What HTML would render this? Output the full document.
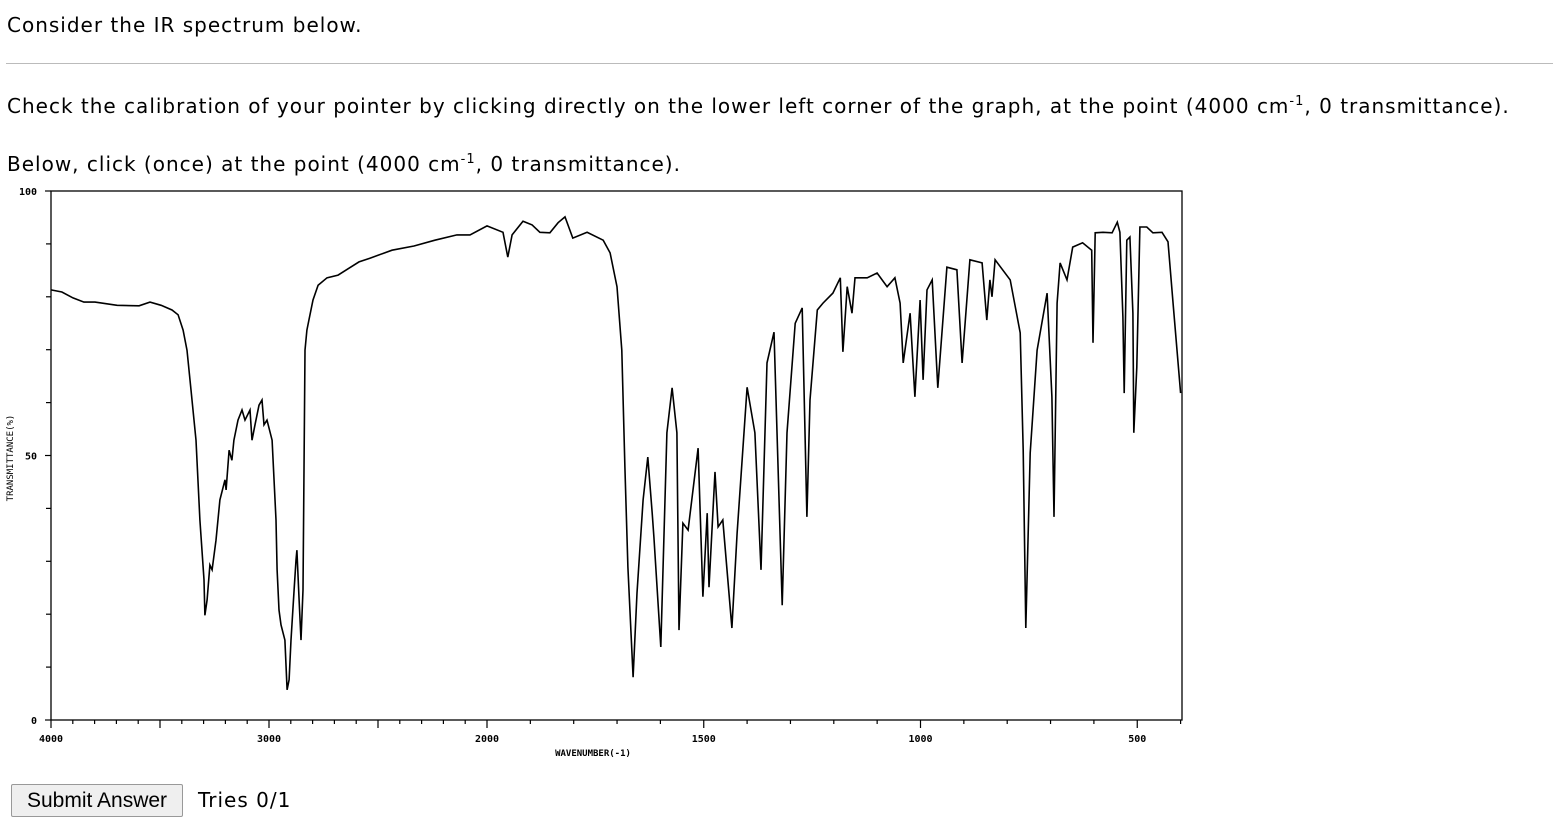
<!DOCTYPE html>
<html><head><meta charset="utf-8">
<style>
body{margin:0;width:1553px;height:837px;background:#fff;font-family:"DejaVu Sans",Verdana,sans-serif;color:#000;position:relative;overflow:hidden}
.t{position:absolute;left:7px;font-size:20px;letter-spacing:1px;white-space:nowrap}
sup{font-size:13px;vertical-align:8px;line-height:0}
#rule{position:absolute;left:6px;top:63px;width:1547px;height:1px;background:#bbb}
#btn{position:absolute;left:11px;top:784px;width:172px;height:33px;border:1px solid #999;background:#efefef;font-size:21px;font-family:"Liberation Sans",Arial,sans-serif;border-radius:2px;padding:0}
#tries{position:absolute;left:198px;top:788px;font-size:20px;letter-spacing:1px}
svg{position:absolute;left:0;top:0}
</style></head><body>
<div class="t" style="top:13px">Consider the IR spectrum below.</div>
<div id="rule"></div>
<div class="t" style="top:94px">Check the calibration of your pointer by clicking directly on the lower left corner of the graph, at the point (4000 cm<sup>-1</sup>, 0 transmittance).</div>
<div class="t" style="top:152px">Below, click (once) at the point (4000 cm<sup>-1</sup>, 0 transmittance).</div>
<svg id="chart" width="1553" height="837"></svg>
<button id="btn">Submit Answer</button>
<div id="tries">Tries 0/1</div>
<script>
const wavenumbers=[4000,3950,3899,3849,3798,3697,3596,3546,3495,3445,3417,3394,3376,3358,3335,3317,3298,3294,3284,3271,3261,3243,3225,3202,3197,3183,3170,3161,3142,3124,3110,3087,3078,3064,3046,3032,3023,3009,2986,2968,2963,2954,2945,2927,2917,2908,2899,2885,2876,2872,2862,2853,2844,2835,2826,2817,2798,2775,2734,2683,2633,2587,2537,2436,2335,2239,2138,2078,2000,
1963,1952,1942,1917,1896,1878,1855,1836,1820,1802,1769,1732,1716,1700,1689,1682,1675,1663,1654,1640,1629,1619,1615,1599,1585,1573,1562,1557,1548,1536,1513,1502,1492,1488,1474,1467,1456,1435,1423,1400,1382,1368,1354,1338,1319,1308,1289,1273,1262,1255,1238,1225,1202,1185,1179,1169,1158,1151,1123,1100,1077,1059,1047,1040,1024,1013,1001,994,985,973,960,939,916,904,886,858,847,840,835,828,793,770,763,757,747,731,708,697,692,685,678,662,649,626,605,602,597,579,558,546,540,533,530,524,517,510,508,501,494,478,464,443,429,418,400];
const transmittance=[81.3,80.9,79.8,79.0,79.0,78.4,78.3,79.0,78.4,77.5,76.6,73.7,69.9,62.4,52.9,37.8,26.5,19.8,22.7,29.3,28.4,34.0,41.6,45.4,43.5,51.0,49.1,52.9,56.7,58.6,56.7,58.6,52.9,55.8,59.5,60.5,55.8,56.7,52.9,37.8,28.4,20.8,18.0,15.1,5.7,7.6,15.1,24.6,30.2,32.1,22.7,15.1,24.6,69.9,73.7,75.6,79.4,82.2,83.6,84.1,85.4,86.6,87.3,88.8,89.6,90.7,91.7,91.7,93.4,
92.2,87.5,91.7,94.3,93.6,92.2,92.1,94.0,95.1,91.1,92.2,90.7,88.3,81.9,69.9,47.8,28.9,8.1,24.0,41.6,49.7,39.1,34.6,13.8,54.3,62.8,54.3,17.0,37.2,35.9,51.4,23.3,39.1,25.1,46.9,36.5,37.8,17.4,35.3,62.9,54.3,28.4,67.5,73.3,21.7,54.3,75.0,77.9,38.4,60.5,77.5,78.8,80.7,83.6,69.6,81.9,76.9,83.6,83.6,84.5,81.9,83.6,78.8,67.5,76.9,61.1,79.4,64.3,81.3,83.2,62.8,85.6,85.1,67.5,87.0,86.4,75.6,83.2,80.0,87.0,83.2,73.2,51.0,17.4,50.5,69.9,80.7,61.1,38.4,78.8,86.4,83.2,89.4,90.2,88.8,71.3,92.1,92.2,92.1,94.1,92.2,76.2,61.8,90.7,91.3,76.9,54.3,66.7,93.2,93.2,92.1,92.2,90.4,79.4,61.8];
const yTickLabels=["0","50","100"];
const yTickValues=[0,50,100];
const xTickLabels=["4000","3000","2000","1500","1000","500"];
const xTickValues=[4000,3000,2000,1500,1000,500];

const L=51,R=1182,T=191,B=720;
function xs(w){return w>=2000? L+(4000-w)*0.218 : 487+(2000-w)*0.4335;}
function ys(v){return B-(v/100)*(B-T);}
const NS="http://www.w3.org/2000/svg";
const svg=document.getElementById('chart');
function el(tag,attrs,parent){const e=document.createElementNS(NS,tag);for(const k in attrs)e.setAttribute(k,attrs[k]);(parent||svg).appendChild(e);return e;}
const frame=el('rect',{x:L,y:T,width:R-L,height:B-T,fill:'none',stroke:'#000','stroke-width':1.3});


for(let v=0;v<=100;v+=10){
  const t=el('line',{x1:L-(v%50===0?6:5),x2:L,y1:ys(v),y2:ys(v),stroke:'#000','stroke-width':1.2});
  
  
}
yTickValues.forEach((v,i)=>{
  const tx=el('text',{x:L-14,y:ys(v)+4,'text-anchor':'end','font-size':10,'font-weight':'bold','font-family':'DejaVu Sans Mono, monospace'});
  tx.textContent=yTickLabels[i];
  
  
});
for(let w=4000;w>=400;w-=100){
  const major=w%500===0;
  const t=el('line',{x1:xs(w),x2:xs(w),y1:B,y2:B+(major?8:4),stroke:'#000','stroke-width':1.2});
  
  
}
xTickValues.forEach((v,i)=>{
  const tx=el('text',{x:xs(v),y:B+22,'text-anchor':'middle','font-size':10,'font-weight':'bold','font-family':'DejaVu Sans Mono, monospace'});
  tx.textContent=xTickLabels[i];
  
  
});
const xt=el('text',{x:593,y:756,'text-anchor':'middle','font-size':9,'font-weight':'bold','font-family':'DejaVu Sans Mono, monospace'});
xt.textContent='WAVENUMBER(-1)';


const yt=el('text',{x:0,y:0,'text-anchor':'middle','font-size':9,'font-family':'DejaVu Sans Mono, monospace',transform:'translate(13,458) rotate(-90)'});
yt.textContent='TRANSMITTANCE(%)';


let d='';
wavenumbers.forEach((w,i)=>{d+=(i?'L':'M')+xs(w).toFixed(1)+','+ys(transmittance[i]).toFixed(1);});
const p=el('path',{d:d,fill:'none',stroke:'#000','stroke-width':1.6,'stroke-linejoin':'miter'});


</script>
</body></html>
